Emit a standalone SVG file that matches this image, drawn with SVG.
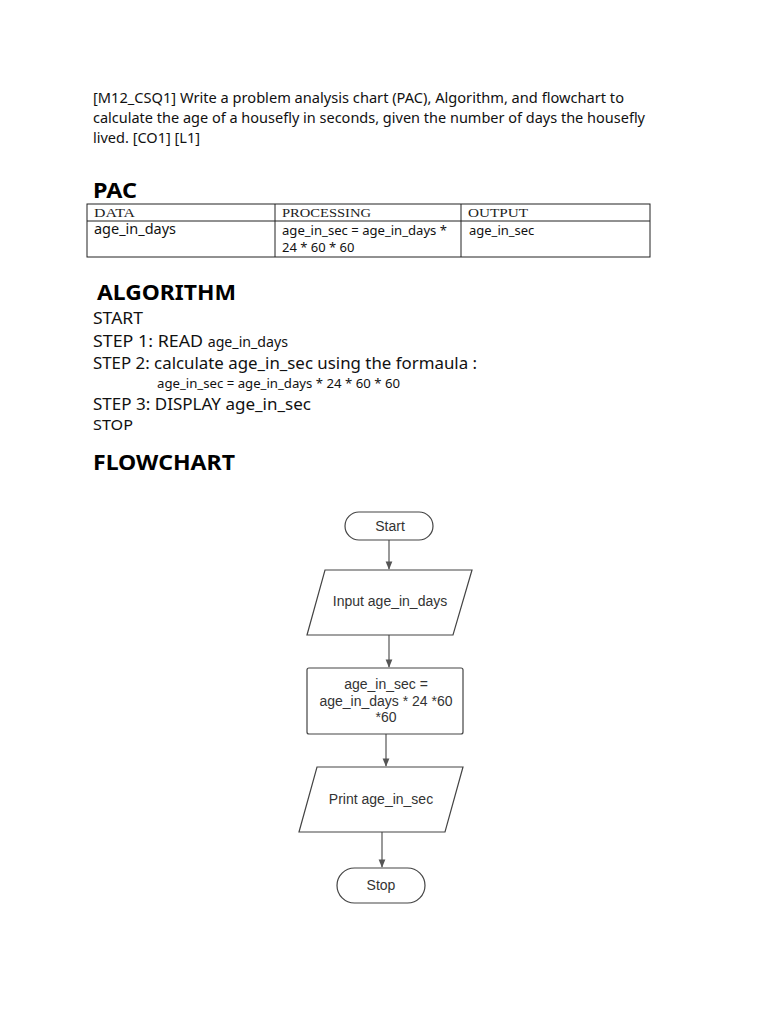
<svg xmlns="http://www.w3.org/2000/svg" width="768" height="1024" viewBox="0 0 768 1024">
<style>
.t{font-family:"Noto Sans","Open Sans",sans-serif;fill:#111}
.h{font-family:"Noto Sans","Open Sans",sans-serif;font-weight:bold;font-size:21px;fill:#000}
.tbl{font-family:"Liberation Serif",serif;font-size:13.5px;fill:#222}
.fc{font-family:"Liberation Sans",Arial,sans-serif;font-size:14px;fill:#333;text-anchor:middle}
.shape{fill:#fff;stroke:#444;stroke-width:1.2}
.conn{stroke:#555;stroke-width:1.2;fill:none}
</style>
<defs>
<marker id="ah" viewBox="0 0 10 10" refX="9" refY="5" markerWidth="7" markerHeight="7" orient="auto">
<path d="M0,1 L10,5 L0,9 z" fill="#555"/>
</marker>
</defs>
<rect width="768" height="1024" fill="#fff"/>
<text class="t" font-size="14" x="93" y="103" textLength="531" lengthAdjust="spacingAndGlyphs">[M12_CSQ1] Write a problem analysis chart (PAC), Algorithm, and flowchart to</text>
<text class="t" font-size="14" x="93" y="123" textLength="552" lengthAdjust="spacingAndGlyphs">calculate the age of a housefly in seconds, given the number of days the housefly</text>
<text class="t" font-size="14" x="93" y="143" textLength="107" lengthAdjust="spacingAndGlyphs">lived. [CO1] [L1]</text>

<text class="h" x="93" y="198" textLength="44" lengthAdjust="spacingAndGlyphs">PAC</text>
<g id="pac-table">
<rect x="87" y="204" width="563" height="53" fill="none" stroke="#222" stroke-width="1"/>
<line x1="87" y1="221" x2="650" y2="221" stroke="#222" stroke-width="1"/>
<line x1="275" y1="204" x2="275" y2="257" stroke="#222" stroke-width="1"/>
<line x1="461" y1="204" x2="461" y2="257" stroke="#222" stroke-width="1"/>
<text class="tbl" x="94" y="217" textLength="41" lengthAdjust="spacingAndGlyphs">DATA</text>
<text class="tbl" x="282" y="217" textLength="89" lengthAdjust="spacingAndGlyphs">PROCESSING</text>
<text class="tbl" x="468" y="217" textLength="60" lengthAdjust="spacingAndGlyphs">OUTPUT</text>
<text class="t" font-size="13.5" x="94" y="234" fill="#333" textLength="82" lengthAdjust="spacingAndGlyphs">age_in_days</text>
<text class="t" font-size="13" x="282" y="235" textLength="165" lengthAdjust="spacingAndGlyphs">age_in_sec = age_in_days *</text>
<text class="t" font-size="13" x="282" y="252">24 * 60 * 60</text>
<text class="t" font-size="13" x="469" y="235">age_in_sec</text>
</g>

<text class="h" x="97" y="300" textLength="139" lengthAdjust="spacingAndGlyphs">ALGORITHM</text>
<text class="t" font-size="17" x="93" y="324" textLength="50" lengthAdjust="spacingAndGlyphs">START</text>
<text class="t" font-size="17" x="93" y="347" textLength="195" lengthAdjust="spacingAndGlyphs">STEP 1: READ <tspan font-size="13.5">age_in_days</tspan></text>
<text class="t" font-size="16.5" x="93" y="369" textLength="384" lengthAdjust="spacingAndGlyphs">STEP 2: calculate age_in_sec using the formaula :</text>
<text class="t" font-size="12.5" x="157" y="388" textLength="243" lengthAdjust="spacingAndGlyphs">age_in_sec = age_in_days * 24 * 60 * 60</text>
<text class="t" font-size="16.5" x="93" y="410" textLength="218" lengthAdjust="spacingAndGlyphs">STEP 3: DISPLAY age_in_sec</text>
<text class="t" font-size="14" x="93" y="430" textLength="40" lengthAdjust="spacingAndGlyphs">STOP</text>

<text class="h" x="93" y="470" textLength="142" lengthAdjust="spacingAndGlyphs">FLOWCHART</text>

<g id="connectors">
<line class="conn" x1="389" y1="540" x2="389" y2="569" marker-end="url(#ah)"/>
<line class="conn" x1="389" y1="635" x2="389" y2="667" marker-end="url(#ah)"/>
<line class="conn" x1="386" y1="734" x2="386" y2="766" marker-end="url(#ah)"/>
<line class="conn" x1="382" y1="832" x2="382" y2="867" marker-end="url(#ah)"/>
</g>
<g id="start">
<rect class="shape" x="345" y="512" width="88" height="28" rx="14"/>
<text class="fc" x="390" y="531" font-size="13">Start</text>
</g>
<g id="input">
<polygon class="shape" points="325,570 472,570 453,635 307,635"/>
<text class="fc" x="390" y="606">Input age_in_days</text>
</g>
<g id="process">
<rect class="shape" x="307" y="668" width="156" height="66" rx="2"/>
<text class="fc" x="386" y="689">age_in_sec =</text>
<text class="fc" x="386" y="706">age_in_days * 24 *60</text>
<text class="fc" x="386" y="722">*60</text>
</g>
<g id="output">
<polygon class="shape" points="317,767 463,767 445,832 299,832"/>
<text class="fc" x="381" y="804" font-size="13.5">Print age_in_sec</text>
</g>
<g id="stop">
<rect class="shape" x="337" y="868" width="88" height="35" rx="17.5"/>
<text class="fc" x="381" y="890">Stop</text>
</g>
</svg>
